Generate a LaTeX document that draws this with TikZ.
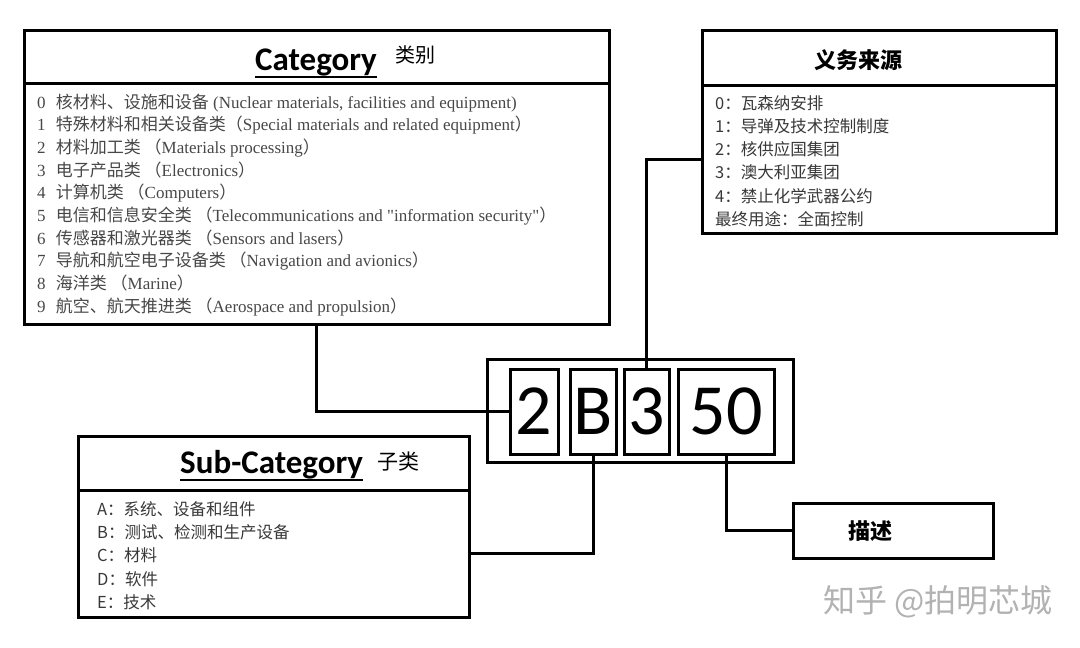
\documentclass[tikz,border=0pt]{standalone}
\usepackage{fontspec}
\setmainfont{Liberation Serif}[Ligatures=TeXOff]
\newfontfamily\cjk{Noto Sans CJK SC}
\newfontfamily\calib{Carlito}
\newcommand{\numgap}{\hspace*{0.6em}}
\begin{document}
\begin{tikzpicture}[x=1pt,y=-1pt]
        \tikzset{box/.style = {draw,line width=3pt,rectangle,inner sep=0pt},
                 conn/.style = {line width=3pt},
                 cattext/.style = {anchor=base west,inner sep=0pt,text=black!72,font=\fontsize{17}{20}\selectfont},
                 zhtext/.style = {anchor=base west,inner sep=0pt,text=black!78,font=\cjk\fontsize{16.5}{20}\selectfont},
                 title/.style = {anchor=base west,inner sep=0pt,font=\calib\bfseries\fontsize{33}{36}\selectfont},
                 subtitle/.style = {anchor=base west,inner sep=0pt,font=\cjk\fontsize{20}{24}\selectfont},
                 digit/.style = {box,font=\calib\fontsize{72}{72}\selectfont}}
        \useasboundingbox (0,0) rectangle (1080,648);

        % Category
        \node[box,minimum width=585pt,minimum height=53pt] (cathead) at (316.5,56.5) {};
        \node[box,minimum width=585pt,minimum height=241pt] (catbody) at (316.5,203.5) {};
        \node[title] (cattitle) at (255,70) {Category};
        \node[subtitle] (catzh) at (395,62) {类别};
        \draw[line width=2pt] ([yshift=-1.5pt]cattitle.south west) -- ([yshift=-1.5pt]cattitle.south east);
        \node[cattext] (c0) at (37,108) {0\numgap{\cjk 核材料、设施和设备} (Nuclear materials, facilities and equipment)};
        \node[cattext] (c1) at (37,130.7) {1\numgap{\cjk 特殊材料和相关设备类（}Special materials and related equipment{\cjk ）}};
        \node[cattext] (c2) at (37,153.4) {2\numgap{\cjk 材料加工类 （}Materials processing{\cjk ）}};
        \node[cattext] (c3) at (37,176.1) {3\numgap{\cjk 电子产品类 （}Electronics{\cjk ）}};
        \node[cattext] (c4) at (37,198.8) {4\numgap{\cjk 计算机类 （}Computers{\cjk ）}};
        \node[cattext] (c5) at (37,221.5) {5\numgap{\cjk 电信和信息安全类 （}Telecommunications and "information security"{\cjk ）}};
        \node[cattext] (c6) at (37,244.2) {6\numgap{\cjk 传感器和激光器类 （}Sensors and lasers{\cjk ）}};
        \node[cattext] (c7) at (37,266.9) {7\numgap{\cjk 导航和航空电子设备类 （}Navigation and avionics{\cjk ）}};
        \node[cattext] (c8) at (37,289.6) {8\numgap{\cjk 海洋类 （}Marine{\cjk ）}};
        \node[cattext] (c9) at (37,312.3) {9\numgap{\cjk 航空、航天推进类 （}Aerospace and propulsion{\cjk ）}};

        % 义务来源
        \node[box,minimum width=354pt,minimum height=55pt] (dutyhead) at (879,57.5) {};
        \node[box,minimum width=354pt,minimum height=148pt] (dutybody) at (879,159) {};
        \node[font=\cjk\bfseries\fontsize{22}{26}\selectfont] (dutytitle) at (858,60) {义务来源};
        \node[zhtext] (o0) at (715,109) {0：瓦森纳安排};
        \node[zhtext] (o1) at (715,132.3) {1：导弹及技术控制制度};
        \node[zhtext] (o2) at (715,155.6) {2：核供应国集团};
        \node[zhtext] (o3) at (715,178.9) {3：澳大利亚集团};
        \node[zhtext] (o4) at (715,202.2) {4：禁止化学武器公约};
        \node[zhtext] (o5) at (715,225.5) {最终用途：全面控制};

        % Sub-Category
        \node[box,minimum width=391pt,minimum height=54pt] (subhead) at (273.5,463) {};
        \node[box,minimum width=391pt,minimum height=127pt] (subbody) at (273.5,553.5) {};
        \node[title] (subtitle) at (180,473) {Sub-Category};
        \node[subtitle,font=\cjk\fontsize{21}{24}\selectfont] (subzh) at (377,469) {子类};
        \draw[line width=2pt] ([yshift=-1.5pt]subtitle.south west) -- ([yshift=-1.5pt]subtitle.south east);
        \node[zhtext] (sA) at (97,515) {A：系统、设备和组件};
        \node[zhtext] (sB) at (97,538.4) {B：测试、检测和生产设备};
        \node[zhtext] (sC) at (97,561.8) {C：材料};
        \node[zhtext] (sD) at (97,585.2) {D：软件};
        \node[zhtext] (sE) at (97,608.6) {E：技术};

        % code
        \node[box,minimum width=306pt,minimum height=103pt] (code) at (640,410.5) {};
        \node[digit,minimum width=48pt,minimum height=85pt] (d2) at (534,411.5) {2};
        \node[digit,minimum width=46pt,minimum height=85pt] (dB) at (593,411.5) {B};
        \node[digit,minimum width=45pt,minimum height=85pt] (d3) at (646.5,411.5) {3};
        \node[digit,minimum width=96pt,minimum height=85pt] (d50) at (726,411.5) {50};

        % 描述
        \node[box,minimum width=200pt,minimum height=55pt] (desc) at (893,530.5) {};
        \node[font=\cjk\bfseries\fontsize{22}{26}\selectfont] (desctext) at (870,531) {描述};

        \draw[conn] (catbody.south) |- (d2.west);
        \draw[conn] (d3.north) |- (dutybody.west);
        \draw[conn] (dB.south) |- (subbody.east);
        \draw[conn] (d50.south) |- (desc.west);

        \node[anchor=west,inner sep=0pt,text=black!30,font=\cjk\fontsize{32}{36}\selectfont] (mark) at (823,602) {知乎 @拍明芯城};
\end{tikzpicture}
\end{document}
